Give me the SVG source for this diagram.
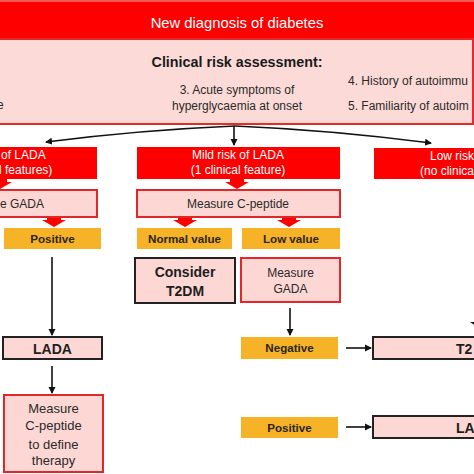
<svg xmlns="http://www.w3.org/2000/svg" width="474" height="474" viewBox="0 0 474 474">
<defs>
<style>
text{font-family:"Liberation Sans",Arial,sans-serif;}
.w{fill:#fff;font-size:12px;}
.d{fill:#2a2a2a;font-size:12px;}
.ob{fill:#2a2410;font-size:11.6px;font-weight:bold;}
.kb{fill:#1e1e1e;font-size:14px;font-weight:bold;}
.red{fill:#fe0000;}
.pk{fill:#fcd7d4;stroke:#e2272b;stroke-width:2;}
.pkb{fill:#fcd7d4;stroke:#222;stroke-width:2;}
.or{fill:#f6b328;}
.ln{stroke:#111;stroke-width:1.6;fill:none;marker-end:url(#ah);}
.ra{fill:#fe0000;}
</style>
<marker id="ah" markerWidth="8" markerHeight="8" refX="6" refY="4" orient="auto" markerUnits="userSpaceOnUse">
<path d="M0,0.5 L7,4 L0,7.5 Z" fill="#111"/>
</marker>
<path id="bar" d="M-7,0 H7 V3 H12 L0,10 L-12,3 H-7 Z"/>
</defs>
<rect width="474" height="474" fill="#fff"/>

<g id="header">
<rect x="0" y="0" width="474" height="39" fill="#fe0000"/>
<rect x="0" y="0" width="474" height="2" fill="#f35a5a"/>
<text x="237" y="28" text-anchor="middle" fill="#fff" style="font-size:14.8px">New diagnosis of diabetes</text>
</g>

<g id="assessment">
<rect x="-2" y="39" width="475" height="85" fill="#fcdad7" stroke="#e52a2a" stroke-width="2"/>
<text x="237" y="67" text-anchor="middle" style="font-size:14.3px;font-weight:bold;fill:#1a1a1a">Clinical risk assessment:</text>
<text x="237" y="94" text-anchor="middle" class="d">3. Acute symptoms of</text>
<text x="237" y="110" text-anchor="middle" class="d">hyperglycaemia at onset</text>
<text x="348" y="85" class="d">4. History of autoimmu</text>
<text x="348" y="110" class="d">5. Familiarity of autoim</text>
<text x="-3" y="109" class="d">e</text>
</g>

<g id="connectors">
<path class="ln" d="M235,126 Q140,130 46,142"/>
<path class="ln" d="M234,126 V145"/>
<path class="ln" d="M235,126 Q330,130 431,143"/>
<path class="ln" d="M52,257 V335"/>
<path class="ln" d="M52,366 V393"/>
<path class="ln" d="M290,308 V335"/>
<path class="ln" d="M346,348 H371"/>
<path class="ln" d="M346,427 H371"/>
<path d="M470,322 L476,322 L476,326 Z" fill="#111"/>
<use href="#bar" class="ra" x="0" y="179"/>
<use href="#bar" class="ra" x="237" y="179"/>
<use href="#bar" class="ra" x="54" y="217"/>
<use href="#bar" class="ra" x="185" y="217"/>
<use href="#bar" class="ra" x="289" y="217"/>
</g>

<g id="high-risk">
<rect class="red" x="-100" y="147" width="197" height="32"/>
<text x="1" y="159" class="w">of LADA</text>
<text x="-1" y="174" class="w">l features)</text>
</g>
<g id="mild-risk">
<rect class="red" x="137" y="147" width="203" height="32"/>
<text x="238" y="159" text-anchor="middle" class="w">Mild risk of LADA</text>
<text x="238" y="174" text-anchor="middle" class="w">(1 clinical feature)</text>
</g>
<g id="low-risk">
<rect class="red" x="374" y="148" width="110" height="31"/>
<text x="430" y="160" class="w">Low risk</text>
<text x="420" y="175" class="w">(no clinica</text>
</g>

<g id="measure-gada-left">
<rect class="pk" x="-10" y="190" width="107" height="27"/>
<text x="0" y="208" class="d">e GADA</text>
</g>
<g id="measure-cpeptide">
<rect class="pk" x="137" y="190" width="203" height="27"/>
<text x="238" y="208" text-anchor="middle" class="d">Measure C-peptide</text>
</g>

<g id="positive-1">
<rect class="or" x="4" y="228" width="97" height="21"/>
<text x="52.5" y="243" text-anchor="middle" class="ob">Positive</text>
</g>
<g id="normal-value">
<rect class="or" x="137" y="228" width="95" height="21"/>
<text x="184.5" y="243" text-anchor="middle" class="ob">Normal value</text>
</g>
<g id="low-value">
<rect class="or" x="242" y="228" width="98" height="21"/>
<text x="291" y="243" text-anchor="middle" class="ob">Low value</text>
</g>

<g id="consider-t2dm">
<rect class="pkb" x="135" y="258" width="100" height="45"/>
<text x="185" y="277" text-anchor="middle" class="kb">Consider</text>
<text x="185" y="296" text-anchor="middle" class="kb">T2DM</text>
</g>
<g id="measure-gada">
<rect class="pk" x="241" y="258" width="99" height="44"/>
<text x="290.5" y="277" text-anchor="middle" class="d">Measure</text>
<text x="290.5" y="293" text-anchor="middle" class="d">GADA</text>
</g>

<g id="lada-1">
<rect class="pkb" x="3" y="337" width="99" height="22"/>
<text x="52.5" y="354" text-anchor="middle" class="kb">LADA</text>
</g>
<g id="measure-cpeptide-therapy">
<rect class="pk" x="4" y="395" width="99" height="77"/>
<text x="53.5" y="413" text-anchor="middle" class="d" style="font-size:13px">Measure</text>
<text x="53.5" y="430" text-anchor="middle" class="d" style="font-size:13px">C-peptide</text>
<text x="53.5" y="449" text-anchor="middle" class="d" style="font-size:13px">to define</text>
<text x="53.5" y="465" text-anchor="middle" class="d" style="font-size:13px">therapy</text>
</g>

<g id="negative">
<rect class="or" x="241" y="337" width="97" height="22"/>
<text x="289.5" y="352" text-anchor="middle" class="ob">Negative</text>
</g>
<g id="positive-2">
<rect class="or" x="241" y="417" width="97" height="21"/>
<text x="289.5" y="432" text-anchor="middle" class="ob">Positive</text>
</g>
<g id="t2dm">
<rect class="pkb" x="373" y="337" width="110" height="22"/>
<text x="456" y="354" class="kb">T2</text>
</g>
<g id="lada-2">
<rect class="pkb" x="373" y="416" width="110" height="22"/>
<text x="456" y="433" class="kb">LA</text>
</g>
</svg>
